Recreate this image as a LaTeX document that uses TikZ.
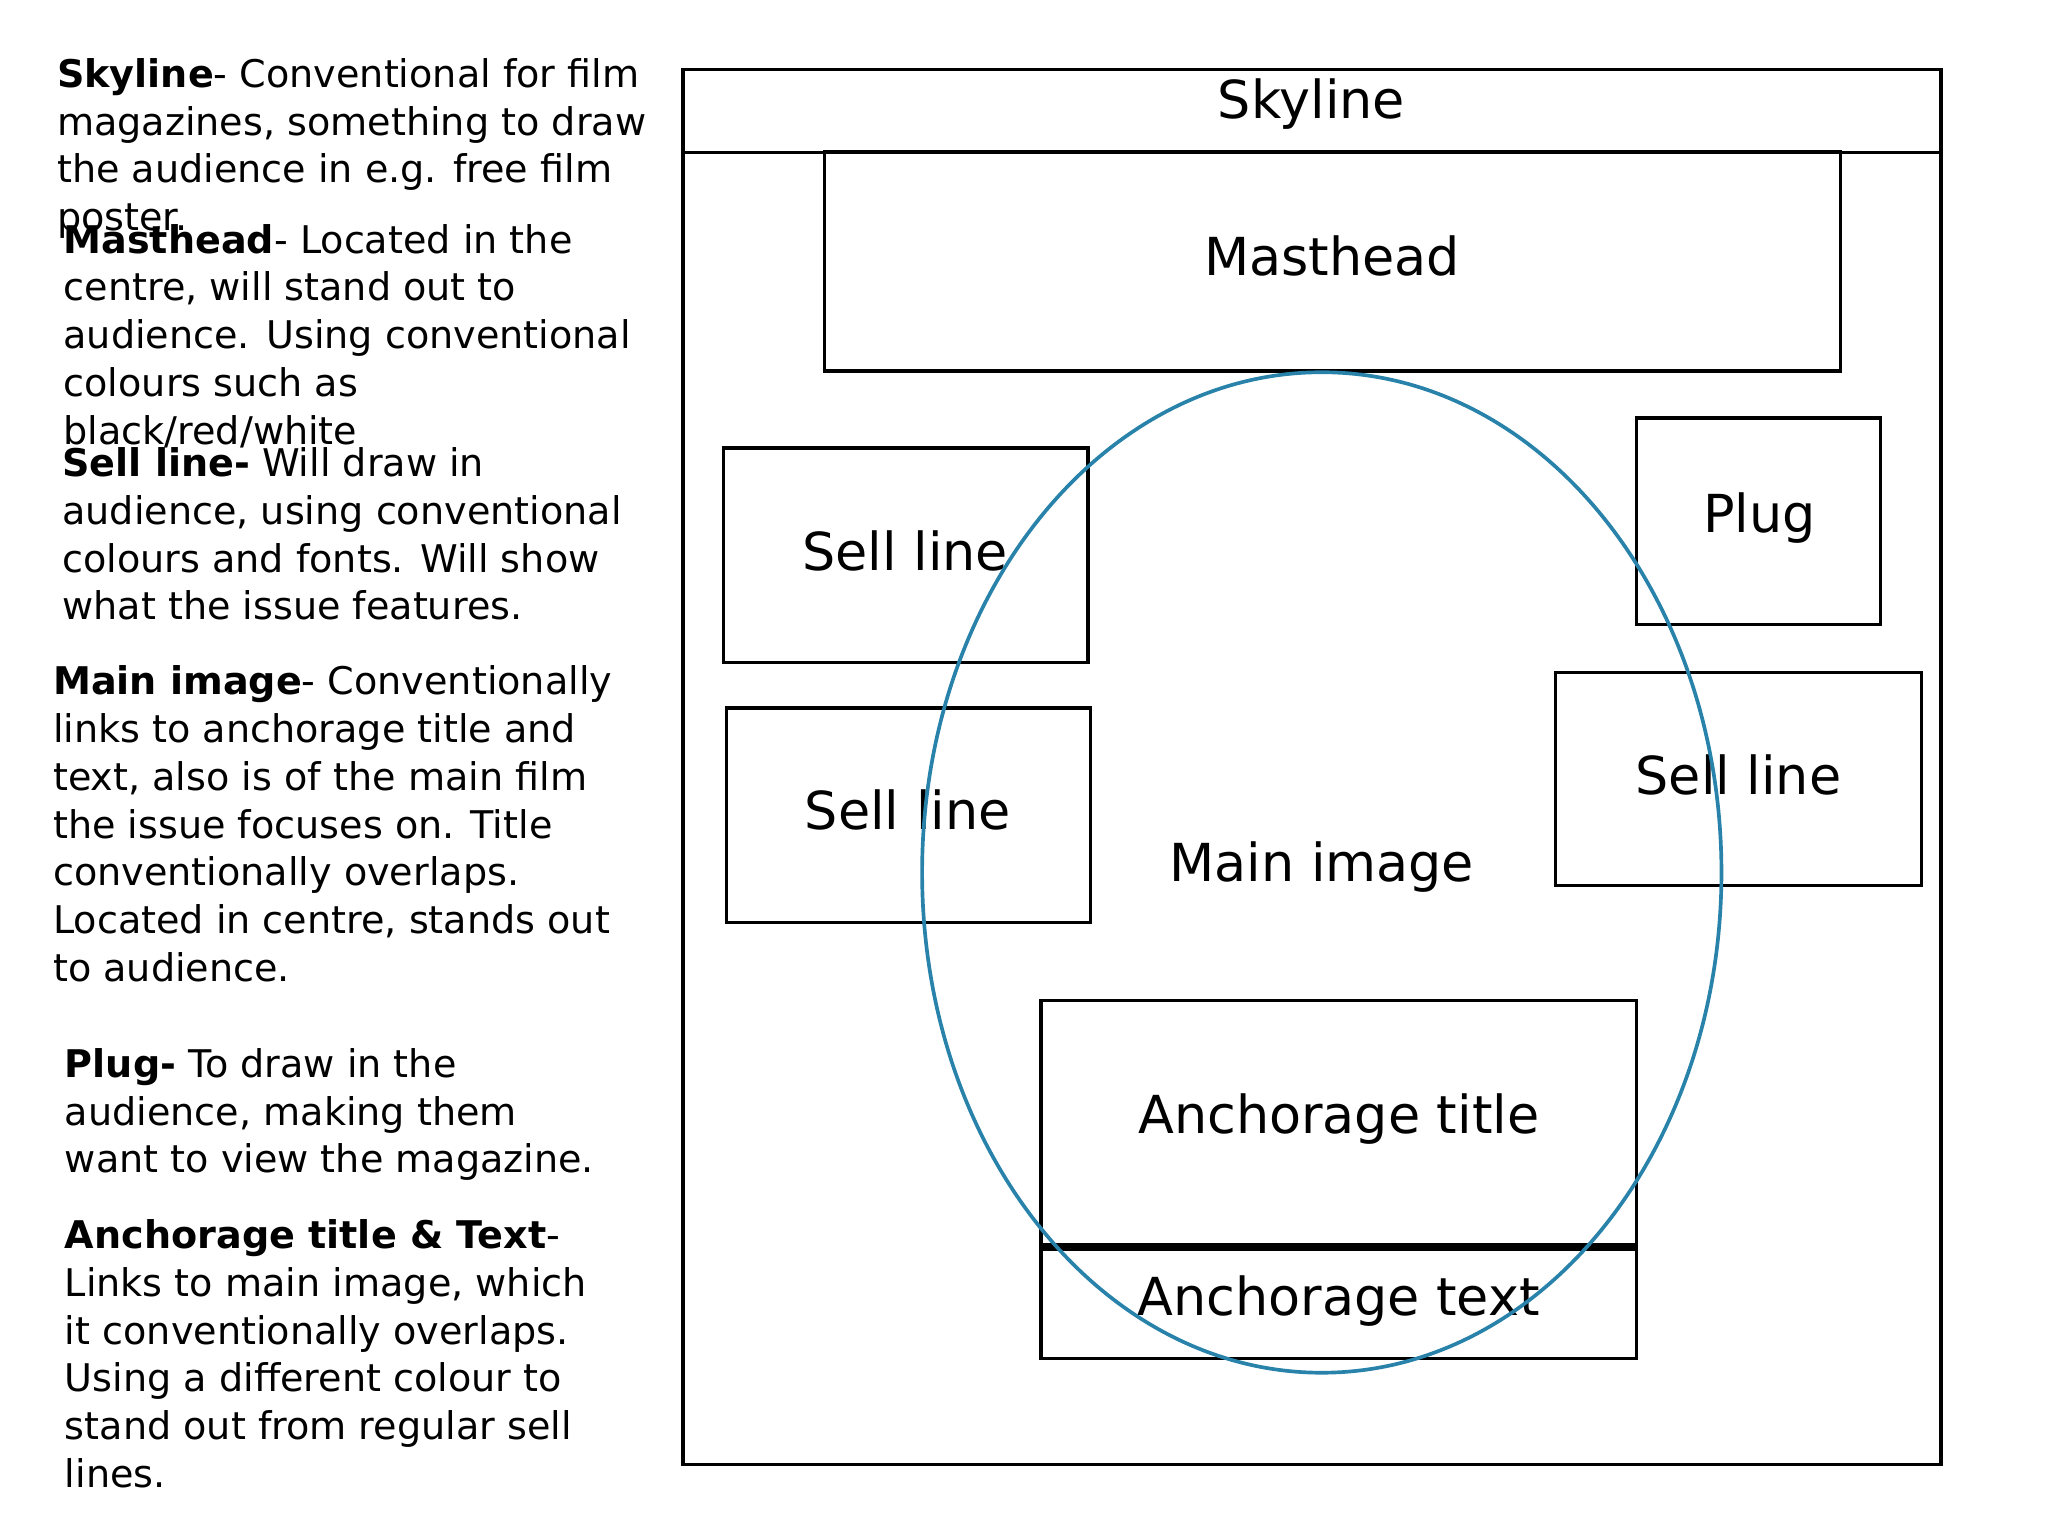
\documentclass[tikz,border=0pt]{standalone}
\usepackage{fontspec}
\setmainfont{DejaVu Sans}
\begin{document}
\begin{tikzpicture}[x=0.01cm,y=-0.01cm,
  bx/.style={draw,line width=0.7pt},
  lbl/.style={font=\fontsize{11.4}{13}\selectfont},
  para/.style={anchor=north west,inner sep=0pt,align=left,font=\fontsize{8.3}{10.4}\selectfont}]
\useasboundingbox (0,0) rectangle (1568,1176);
\draw[bx] (523,53) rectangle (1486,1121);
\draw[bx] (523,117) -- (1486,117);
\node[lbl] (sky) at (1004,80) {Skyline};
\draw[bx] (631,116) rectangle (1409,284);
\node[lbl] (mast) at (1020,196) {Masthead};
\draw[bx] (554,343) rectangle (833,507);
\node[lbl] (s1) at (693,422) {Sell line};
\draw[bx] (556,542) rectangle (835,706);
\node[lbl] (s2) at (695,620) {Sell line};
\draw[bx] (1253,320) rectangle (1440,478);
\node[lbl] (plug) at (1347,397) {Plug};
\draw[bx] (1191,515) rectangle (1471,678);
\node[lbl] (s3) at (1331,593) {Sell line};
\draw[bx] (797,766) rectangle (1253,955);
\draw[bx] (797,955) rectangle (1253,1040);
\draw[line width=1.8pt] (797,955) -- (1253,955);
\node[lbl] (at) at (1025,857) {Anchorage title};
\node[lbl] (atx) at (1025,996) {Anchorage text};
\node[lbl] (mi) at (1012,664) {Main image};
\draw[color={rgb,255:red,40;green,130;blue,170},line width=0.8pt] (1012,668) ellipse [x radius=306,y radius=383];
\node[para] (p1) at (43,44) {\textbf{Skyline}- Conventional for film\\magazines, something to draw\\the audience in e.g. free film\\poster.};
\node[para] (p2) at (48,171) {\textbf{Masthead}- Located in the\\centre, will stand out to\\audience. Using conventional\\colours such as\\black/red/white};
\node[para] (p3) at (47,342) {\textbf{Sell line-} Will draw in\\audience, using conventional\\colours and fonts. Will show\\what the issue features.};
\node[para] (p4) at (40,509) {\textbf{Main image}- Conventionally\\links to anchorage title and\\text, also is of the main film\\the issue focuses on. Title\\conventionally overlaps.\\Located in centre, stands out\\to audience.};
\node[para] (p5) at (49,802) {\textbf{Plug-} To draw in the\\audience, making them\\want to view the magazine.};
\node[para] (p6) at (49,933) {\textbf{Anchorage title \& Text}-\\Links to main image, which\\it conventionally overlaps.\\Using a different colour to\\stand out from regular sell\\lines.};
\end{tikzpicture}
\end{document}
